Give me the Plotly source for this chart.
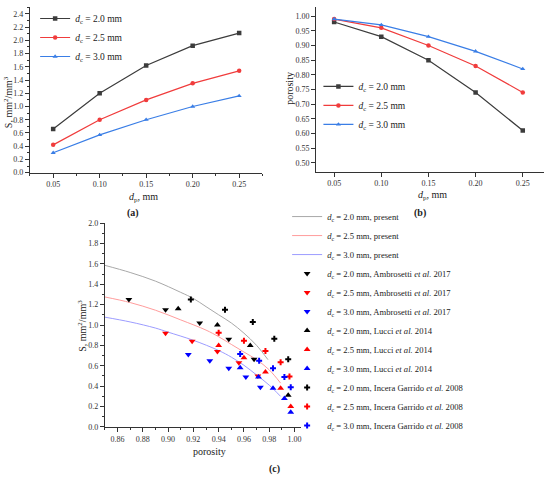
import plotly.graph_objects as go

# (a) and (b): particle diameter vs specific surface / porosity
dp = [0.05, 0.10, 0.15, 0.20, 0.25]
sv_dc20 = [0.66, 1.20, 1.62, 1.92, 2.11]
sv_dc25 = [0.42, 0.80, 1.10, 1.35, 1.54]
sv_dc30 = [0.30, 0.57, 0.80, 1.00, 1.16]
por_dc20 = [0.98, 0.93, 0.85, 0.74, 0.61]
por_dc25 = [0.99, 0.96, 0.90, 0.83, 0.74]
por_dc30 = [0.99, 0.97, 0.93, 0.88, 0.82]

# (c): present model curves
fit_por_20 = [0.85, 0.87, 0.89, 0.91, 0.92, 0.93, 0.94, 0.95, 0.96, 0.97, 0.979]
fit_sv_20 = [1.585, 1.515, 1.43, 1.32, 1.26, 1.18, 1.10, 1.02, 0.92, 0.80, 0.66]
fit_por_25 = [0.85, 0.87, 0.89, 0.91, 0.93, 0.94, 0.95, 0.96, 0.97, 0.98, 0.989]
fit_sv_25 = [1.275, 1.22, 1.145, 1.05, 0.95, 0.885, 0.81, 0.735, 0.66, 0.56, 0.43]
fit_por_30 = [0.85, 0.87, 0.89, 0.90, 0.92, 0.94, 0.95, 0.96, 0.97, 0.98, 0.989]
fit_sv_30 = [1.077, 1.03, 0.97, 0.93, 0.85, 0.75, 0.685, 0.605, 0.51, 0.41, 0.30]

# (c): literature data
amb_por_20 = [0.869, 0.898, 0.925, 0.948, 0.968]
amb_sv_20 = [1.25, 1.15, 1.02, 0.86, 0.665]
amb_por_25 = [0.898, 0.919, 0.939, 0.956, 0.971]
amb_sv_25 = [0.92, 0.84, 0.74, 0.63, 0.50]
amb_por_30 = [0.916, 0.933, 0.948, 0.9615, 0.973]
amb_sv_30 = [0.71, 0.65, 0.575, 0.49, 0.39]

luc_por_20 = [0.908, 0.939, 0.965, 0.995]
luc_sv_20 = [1.16, 1.00, 0.80, 0.31]
luc_por_25 = [0.94, 0.960, 0.977, 0.989, 0.997]
luc_sv_25 = [0.80, 0.68, 0.54, 0.38, 0.20]
luc_por_30 = [0.957, 0.9715, 0.983, 0.992, 0.997]
luc_sv_30 = [0.58, 0.49, 0.38, 0.28, 0.145]

inc_por_20 = [0.918, 0.945, 0.967, 0.984, 0.995]
inc_sv_20 = [1.25, 1.15, 1.03, 0.865, 0.665]
inc_por_25 = [0.94, 0.960, 0.977, 0.989, 0.996]
inc_sv_25 = [0.925, 0.845, 0.745, 0.635, 0.495]
inc_por_30 = [0.957, 0.972, 0.983, 0.992, 0.997]
inc_sv_30 = [0.715, 0.65, 0.575, 0.49, 0.39]

FONT = "Liberation Serif"
W, H = 550, 484
dc_lbl = ["<i>d</i><sub>c</sub> = 2.0 mm", "<i>d</i><sub>c</sub> = 2.5 mm", "<i>d</i><sub>c</sub> = 3.0 mm"]
ab_cols = ["#3c3c3c", "#f03c3c", "#3a7ee6"]
ab_syms = ["square", "circle", "triangle-up"]
pt_cols = ["#000000", "#ff0000", "#0000ff"]
fit_cols = ["#a8a8a8", "#ff9c9c", "#9c9cff"]

fig = go.Figure()

for i, ys in enumerate([sv_dc20, sv_dc25, sv_dc30]):
    fig.add_trace(go.Scatter(x=dp, y=ys, mode="lines+markers", name=dc_lbl[i],
                             line=dict(color=ab_cols[i], width=1.2),
                             marker=dict(symbol=ab_syms[i], size=4.5, color=ab_cols[i]),
                             xaxis="x", yaxis="y", legend="legend"))

for i, ys in enumerate([por_dc20, por_dc25, por_dc30]):
    fig.add_trace(go.Scatter(x=dp, y=ys, mode="lines+markers", name=dc_lbl[i],
                             line=dict(color=ab_cols[i], width=1.2),
                             marker=dict(symbol=ab_syms[i], size=4.5, color=ab_cols[i]),
                             xaxis="x2", yaxis="y2", legend="legend2"))

fits = [(fit_por_20, fit_sv_20), (fit_por_25, fit_sv_25), (fit_por_30, fit_sv_30)]
for i, (xs, ys) in enumerate(fits):
    fig.add_trace(go.Scatter(x=xs, y=ys, mode="lines", name=dc_lbl[i] + ", present",
                             line=dict(color=fit_cols[i], width=1, shape="spline"),
                             xaxis="x3", yaxis="y3", legend="legend3"))

groups = [
    ("Ambrosetti <i>et al.</i> 2017", "triangle-down", 6,
     [(amb_por_20, amb_sv_20), (amb_por_25, amb_sv_25), (amb_por_30, amb_sv_30)]),
    ("Lucci <i>et al.</i> 2014", "triangle-up", 6,
     [(luc_por_20, luc_sv_20), (luc_por_25, luc_sv_25), (luc_por_30, luc_sv_30)]),
    ("Incera Garrido <i>et al.</i> 2008", "cross", 5,
     [(inc_por_20, inc_sv_20), (inc_por_25, inc_sv_25), (inc_por_30, inc_sv_30)]),
]
for src, sym, sz, sets in groups:
    for i, (xs, ys) in enumerate(sets):
        fig.add_trace(go.Scatter(x=xs, y=ys, mode="markers", name=dc_lbl[i] + ", " + src,
                                 marker=dict(symbol=sym, size=sz, color=pt_cols[i]),
                                 xaxis="x3", yaxis="y3", legend="legend3"))

ax = dict(showline=True, linecolor="#333", linewidth=1, ticks="outside", ticklen=4,
          tickcolor="#333", showgrid=False, zeroline=False, mirror=False,
          tickfont=dict(family=FONT, size=8, color="#333"))
mn = lambda d: dict(ticks="outside", ticklen=2, dtick=d, tickcolor="#333")

def label(text, px, py, size=10, angle=0):
    return dict(text=text, x=px / W, y=1 - py / H, xref="paper", yref="paper",
                xanchor="center", yanchor="middle", showarrow=False, textangle=angle,
                font=dict(family=FONT, size=size, color="#222"))

# legends kept inside the paper box so they do not push the margins
fig.update_layout(
    width=W, height=H, margin=dict(l=0, r=0, t=0, b=0),
    paper_bgcolor="white", plot_bgcolor="white",
    font=dict(family=FONT, size=10, color="#222"),
    xaxis=dict(ax, domain=[0.0545, 0.478], range=[0.025, 0.275], tick0=0.05, dtick=0.05,
               tickformat=".2f", minor=mn(0.025), anchor="y"),
    yaxis=dict(ax, domain=[0.645, 0.993], range=[0, 2.5], dtick=0.2, tickformat=".1f",
               minor=mn(0.1), anchor="x"),
    xaxis2=dict(ax, domain=[0.576, 0.99], range=[0.031, 0.272], tick0=0.05, dtick=0.05,
                tickformat=".2f", anchor="y2"),
    yaxis2=dict(ax, domain=[0.647, 0.993], range=[0.47, 1.03], tick0=0.5, dtick=0.05,
                tickformat=".2f", anchor="x2"),
    xaxis3=dict(ax, domain=[0.191, 0.548], range=[0.85, 1.005], tick0=0.86, dtick=0.02,
                tickformat=".2f", minor=mn(0.01), anchor="y3"),
    yaxis3=dict(ax, domain=[0.1095, 0.54], range=[0, 2.005], dtick=0.2, tickformat=".1f",
                minor=mn(0.1), anchor="x3"),
    legend=dict(x=0.064, y=1.0, xanchor="left", yanchor="top", bgcolor="rgba(0,0,0,0)",
                font=dict(family=FONT, size=9.5), itemwidth=30),
    legend2=dict(x=0.58, y=0.857, xanchor="left", yanchor="top", bgcolor="rgba(0,0,0,0)",
                 font=dict(family=FONT, size=9.5), itemwidth=30),
    legend3=dict(x=0.523, y=0.583, xanchor="left", yanchor="top", bgcolor="rgba(0,0,0,0)",
                 font=dict(family=FONT, size=8.6), itemwidth=30),
    annotations=[
        label("<i>d</i><sub>p</sub>, mm", 144, 197),
        label("<i>d</i><sub>p</sub>, mm", 433, 195),
        label("porosity", 210, 456),
        label("S, mm<sup>2</sup>/mm<sup>3</sup>", 8, 100, angle=-90),
        label("porosity", 290, 86, angle=-90),
        label("S, mm<sup>2</sup>/mm<sup>3</sup>", 82, 328, angle=-90),
        label("<b>(a)</b>", 133, 213),
        label("<b>(b)</b>", 421, 213),
        label("<b>(c)</b>", 275, 474),
    ],
)

# drop the default 8px page margin so the figure sits at the window origin
fig.write_html("out.html", config={"displayModeBar": False},
               post_script="document.body.style.margin='0px';")
